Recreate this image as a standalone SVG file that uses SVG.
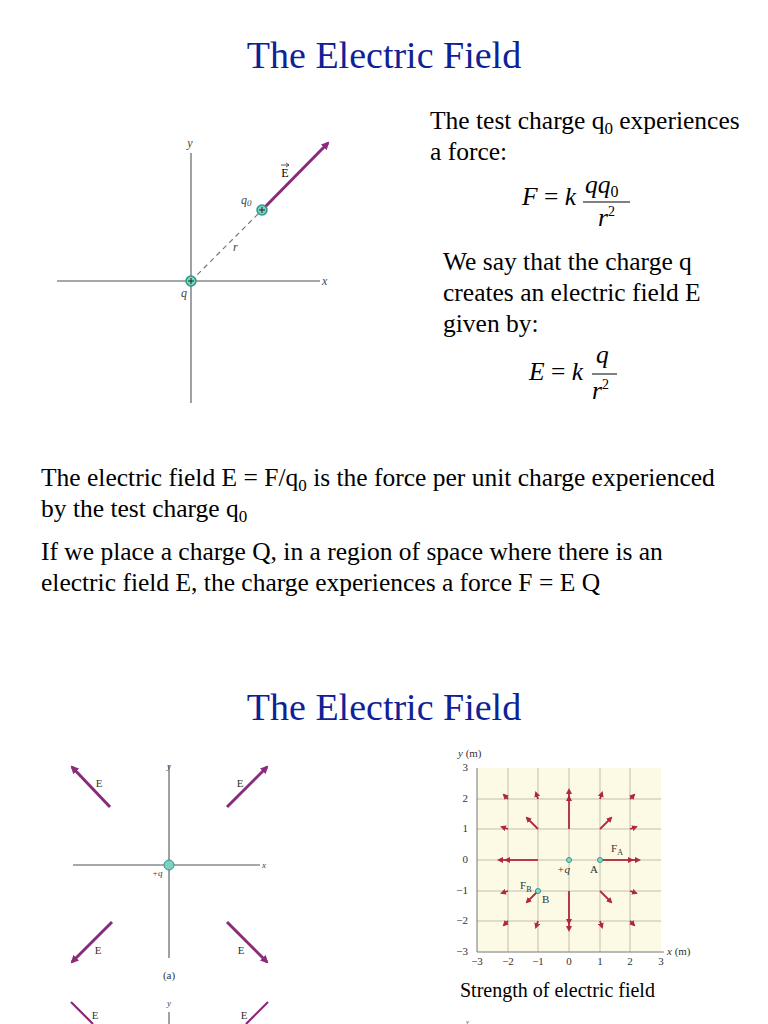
<svg xmlns="http://www.w3.org/2000/svg" width="768" height="1024" viewBox="0 0 768 1024">
<style>
.t{font-family:"Liberation Serif",serif;fill:#000}
.ttl{font-family:"Liberation Serif",serif;font-size:38px;fill:#0e2196;text-anchor:middle}
.body{font-family:"Liberation Serif",serif;font-size:25.5px;fill:#000}
.it{font-family:"Liberation Serif",serif;font-style:italic;fill:#444}
.ax{stroke:#8a8a8a;stroke-width:1.6;fill:none}
.ev{stroke:#8a2a7a;stroke-width:3;fill:none;marker-end:url(#ah)}
.fa{stroke:#b0283c;stroke-width:1.8;fill:none;marker-end:url(#fh)}
.gl{stroke:#d6d2c0;stroke-width:1.5}
.lbl{font-family:"Liberation Serif",serif;font-size:11px;fill:#333}
</style>
<defs>
<marker id="ah" markerWidth="8" markerHeight="8" refX="6" refY="4" orient="auto" markerUnits="userSpaceOnUse" viewBox="0 0 8 8"><path d="M0,0 L8,4 L0,8 z" fill="#8a2a7a"/></marker>
<marker id="fh" markerWidth="6" markerHeight="6" refX="4" refY="3" orient="auto" markerUnits="userSpaceOnUse" viewBox="0 0 6 6"><path d="M0,0 L6,3 L0,6 z" fill="#b0283c"/></marker>
</defs>
<rect width="768" height="1024" fill="#fff"/>
<text class="ttl" x="384" y="68">The Electric Field</text>
<text class="ttl" x="384" y="720">The Electric Field</text>

<g id="fig1">
<line class="ax" x1="191" y1="153" x2="191" y2="403"/>
<line class="ax" x1="57" y1="281" x2="320" y2="281"/>
<line x1="191" y1="281" x2="262" y2="210" stroke="#777" stroke-width="1.2" stroke-dasharray="5,4"/>
<line class="ev" x1="264" y1="208" x2="328" y2="143"/>
<circle cx="191" cy="281" r="5" fill="#7fd0c0" stroke="#2a9a88" stroke-width="1.5"/>
<circle cx="262" cy="210" r="5" fill="#7fd0c0" stroke="#2a9a88" stroke-width="1.5"/>
<path d="M188,281 h6 M191,278 v6 M259,210 h6 M262,207 v6" stroke="#222" stroke-width="1"/>
<text class="it" x="190" y="147" font-size="12" text-anchor="middle">y</text>
<text class="it" x="322" y="285" font-size="12">x</text>
<text class="it" x="181" y="297" font-size="12">q</text>
<text class="it" x="241" y="204" font-size="12">q<tspan font-size="9" dy="2">0</tspan></text>
<text class="it" x="233" y="251" font-size="12">r</text>
<text class="t" x="285" y="177" font-size="12" text-anchor="middle" fill="#333">E</text>
<path d="M281,165 h8 M286,163 l3,2 l-3,2" stroke="#333" stroke-width="0.8" fill="none"/>
</g>

<g id="text-top">
<text class="body" x="430" y="129">The test charge q<tspan font-size="17" dy="5">0</tspan><tspan dy="-5"> experiences</tspan></text>
<text class="body" x="430" y="160">a force:</text>
<text class="body" x="522" y="205"><tspan font-style="italic">F</tspan> = <tspan font-style="italic">k</tspan></text>
<text class="body" x="585" y="193" font-style="italic">qq<tspan font-size="16" dy="4" font-style="normal">0</tspan></text>
<line x1="583" y1="202" x2="630" y2="202" stroke="#000" stroke-width="1"/>
<text class="body" x="598" y="226" font-style="italic">r<tspan font-size="14" dy="-10" font-style="normal">2</tspan></text>
<text class="body" x="443" y="270">We say that the charge q</text>
<text class="body" x="443" y="301">creates an electric field E</text>
<text class="body" x="443" y="332">given by:</text>
<text class="body" x="529" y="380"><tspan font-style="italic">E</tspan> = <tspan font-style="italic">k</tspan></text>
<text class="body" x="596" y="363" font-style="italic">q</text>
<line x1="592" y1="374" x2="617" y2="374" stroke="#000" stroke-width="1"/>
<text class="body" x="592" y="399" font-style="italic">r<tspan font-size="14" dy="-10" font-style="normal">2</tspan></text>
</g>

<g id="text-mid">
<text class="body" x="41" y="486">The electric field E = F/q<tspan font-size="17" dy="5">0</tspan><tspan dy="-5"> is the force per unit charge experienced</tspan></text>
<text class="body" x="41" y="517">by the test charge q<tspan font-size="17" dy="5">0</tspan></text>
<text class="body" x="41" y="560">If we place a charge Q, in a region of space where there is an</text>
<text class="body" x="41" y="591">electric field E, the charge experiences a force F = E Q</text>
</g>

<g id="fig2">
<line class="ax" x1="169" y1="765" x2="169" y2="958" stroke-width="1.3"/>
<line class="ax" x1="73" y1="865" x2="260" y2="865" stroke-width="1.3"/>
<circle cx="169" cy="865" r="5" fill="#7fd0c0" stroke="#2a9a88" stroke-width="1"/>
<text class="it" x="169" y="769" font-size="9" text-anchor="middle">y</text>
<text class="it" x="262" y="868" font-size="9">x</text>
<text class="it" x="152" y="876" font-size="9">+q</text>
<line class="ev" x1="110" y1="807" x2="72" y2="767" stroke-width="2.2"/>
<line class="ev" x1="227" y1="807" x2="267" y2="767" stroke-width="2.2"/>
<line class="ev" x1="112" y1="922" x2="72" y2="962" stroke-width="2.2"/>
<line class="ev" x1="227" y1="922" x2="267" y2="962" stroke-width="2.2"/>
<text class="lbl" x="99" y="787" text-anchor="middle">E</text>
<text class="lbl" x="240" y="787" text-anchor="middle">E</text>
<text class="lbl" x="98" y="954" text-anchor="middle">E</text>
<text class="lbl" x="241" y="954" text-anchor="middle">E</text>
<text class="lbl" x="169" y="979" text-anchor="middle" font-size="10">(a)</text>
<line class="ax" x1="169" y1="1012" x2="169" y2="1024" stroke-width="1.3"/>
<text class="it" x="169" y="1006" font-size="9" text-anchor="middle">y</text>
<line x1="71" y1="1002" x2="93" y2="1024" stroke="#8a2a7a" stroke-width="2.2"/>
<line x1="268" y1="1002" x2="246" y2="1024" stroke="#8a2a7a" stroke-width="2.2"/>
<text class="lbl" x="95" y="1019" text-anchor="middle">E</text>
<text class="lbl" x="244" y="1019" text-anchor="middle">E</text>
</g>

<g id="fig3">
<rect x="477" y="768" width="184" height="184" fill="#fcf9e4"/>
<g class="gl">
<line x1="508" y1="768" x2="508" y2="952"/><line x1="538" y1="768" x2="538" y2="952"/><line x1="569" y1="768" x2="569" y2="952"/><line x1="600" y1="768" x2="600" y2="952"/><line x1="630" y1="768" x2="630" y2="952"/>
<line x1="477" y1="799" x2="661" y2="799"/><line x1="477" y1="829" x2="661" y2="829"/><line x1="477" y1="860" x2="661" y2="860"/><line x1="477" y1="891" x2="661" y2="891"/><line x1="477" y1="921" x2="661" y2="921"/>
</g>
<line x1="477" y1="768" x2="477" y2="952" stroke="#777" stroke-width="1"/>
<line x1="477" y1="952" x2="664" y2="952" stroke="#777" stroke-width="1"/>
<g class="fa">
<line x1="569" y1="829" x2="569" y2="797"/><line x1="569" y1="891" x2="569" y2="923"/>
<line x1="538" y1="860" x2="506" y2="860"/><line x1="600" y1="860" x2="632" y2="860"/>
<line x1="569" y1="799" x2="569" y2="790"/><line x1="569" y1="921" x2="569" y2="930"/>
<line x1="508" y1="860" x2="499" y2="860"/><line x1="630" y1="860" x2="639" y2="860"/>
<line x1="600" y1="829" x2="611" y2="818"/><line x1="538" y1="829" x2="527" y2="818"/>
<line x1="600" y1="891" x2="611" y2="902"/><line x1="538" y1="891" x2="527" y2="902"/>
<line x1="630" y1="799" x2="634" y2="795"/><line x1="508" y1="799" x2="504" y2="795"/>
<line x1="630" y1="921" x2="634" y2="925"/><line x1="508" y1="921" x2="504" y2="925"/>
<line x1="600" y1="799" x2="602" y2="793"/><line x1="538" y1="799" x2="536" y2="793"/>
<line x1="600" y1="921" x2="602" y2="927"/><line x1="538" y1="921" x2="536" y2="927"/>
<line x1="630" y1="829" x2="636" y2="827"/><line x1="508" y1="829" x2="502" y2="827"/>
<line x1="630" y1="891" x2="636" y2="893"/><line x1="508" y1="891" x2="502" y2="893"/>
</g>
<circle cx="569" cy="860" r="2.5" fill="#8fd8c8" stroke="#2a9a88" stroke-width="1"/>
<circle cx="600" cy="860" r="2.5" fill="#8fd8c8" stroke="#2a9a88" stroke-width="1"/>
<circle cx="538" cy="891" r="2.5" fill="#8fd8c8" stroke="#2a9a88" stroke-width="1"/>
<g class="lbl" font-size="10">
<text x="468" y="771" text-anchor="end">3</text><text x="468" y="802" text-anchor="end">2</text><text x="468" y="832" text-anchor="end">1</text><text x="468" y="863" text-anchor="end">0</text><text x="468" y="894" text-anchor="end">−1</text><text x="468" y="924" text-anchor="end">−2</text><text x="468" y="955" text-anchor="end">−3</text>
<text x="477" y="965" text-anchor="middle">−3</text><text x="508" y="965" text-anchor="middle">−2</text><text x="538" y="965" text-anchor="middle">−1</text><text x="569" y="965" text-anchor="middle">0</text><text x="600" y="965" text-anchor="middle">1</text><text x="630" y="965" text-anchor="middle">2</text><text x="661" y="965" text-anchor="middle">3</text>
<text x="458" y="757"><tspan font-style="italic">y</tspan> (m)</text>
<text x="667" y="955"><tspan font-style="italic">x</tspan> (m)</text>
<text x="557" y="873"><tspan font-style="italic">+q</tspan></text>
<text x="590" y="873">A</text>
<text x="542" y="903">B</text>
<text x="611" y="852">F<tspan font-size="8" dy="3">A</tspan></text>
<text x="520" y="889">F<tspan font-size="8" dy="3">B</tspan></text>
</g>
<text class="t" x="460" y="997" font-size="20">Strength of electric field</text>
<text class="it" x="466" y="1024" font-size="7">y</text>
</g>
</svg>
